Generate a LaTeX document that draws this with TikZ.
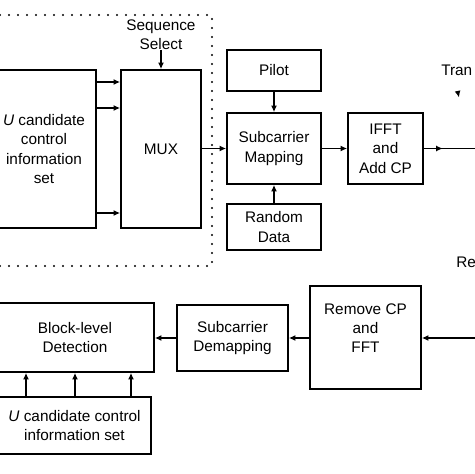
\documentclass[tikz,border=0pt]{standalone}
\usepackage{fontspec}
\setmainfont{Liberation Sans}
\usepackage{tikz}
\usetikzlibrary{arrows.meta}

\tikzset{
  blk/.style={draw, line width=1.2pt, align=center, inner sep=0pt},
  sz/.style 2 args={minimum width=#1*0.75pt, minimum height=#2*0.75pt},
  lbl/.style={align=center, inner sep=0pt},
  arr/.style={line width=1.2pt, -{Latex[length=5pt,width=4.5pt]}},
  ln/.style={line width=1.2pt},
  dotbox/.style={line width=1.6pt, line cap=round, dash pattern=on 0pt off 6.75pt}
}

\begin{document}
\begin{tikzpicture}[x=0.75pt,y=0.75pt,yscale=-1,xscale=1,
  font=\fontsize{11.5}{14.5}\selectfont]
    \useasboundingbox (0,0) rectangle (474,474);

    %Shape: Dotted frame
    \draw[dotbox] (-10,15) rectangle (212,266);

    %Shape: Transmitter blocks
    \node[blk, sz={104}{158}] (cand) at (44,149) {\textit{U} candidate\\control\\information\\set};
    \node[blk, sz={80}{158}] (mux) at (161,149) {MUX};
    \node[lbl] (seq) at (161,34.5) {Sequence\\Select};
    \node[blk, sz={94}{41}] (pilot) at (274,70.5) {Pilot};
    \node[blk, sz={94}{71}] (map) at (274,148.5) {Subcarrier\\Mapping};
    \node[blk, sz={94}{46}] (rand) at (274,227) {Random\\Data};
    \node[blk, sz={75}{71}] (ifft) at (385.5,148.5) {IFFT\\and\\Add CP};
    \node[anchor=west, inner sep=0pt] (tx) at (441,70) {Tran};
    \coordinate (txend) at (480,148.5);

    %Shape: Receiver blocks
    \node[blk, sz={158}{69}] (bld) at (75,337.5) {Block-level\\Detection};
    \node[blk, sz={153}{57}] (cand2) at (74.5,425.5) {\textit{U} candidate control\\information set};
    \node[blk, sz={111}{66}] (demap) at (232.5,338) {Subcarrier\\Demapping};
    \node[blk, sz={111}{103}] (rmcp) at (365.5,337.5) {};
    \node[lbl] (rmcpt) at (365.5,328) {Remove CP\\and\\FFT};
    \node[anchor=west, inner sep=0pt] (rx) at (456,262) {Re};
    \coordinate (rxin) at (480,338);

    %Straight Lines: transmitter
    \foreach \y in {82,108,213}
      \draw[arr] (cand.east |- 0,\y) -- (mux.west |- 0,\y);
    \draw[arr] (seq.south -| mux.north) -- (mux.north);
    \draw[arr] (mux.east |- map.west) -- (map.west);
    \draw[arr] (pilot) -- (map);
    \draw[arr] (rand) -- (map);
    \draw[arr] (map) -- (ifft);
    \draw[ln] (ifft.east) -- (txend);
    \draw[arr] (ifft.east) -- ++(19,0);
    \draw[arr] (458,93) -- (459,97.5);

    %Straight Lines: receiver
    \draw[arr] (rxin) -- (rmcp.east |- rxin);
    \draw[arr] (rmcp.west |- rxin) -- (demap.east |- rxin);
    \draw[arr] (demap.west |- rxin) -- (bld.east |- rxin);
    \foreach \x in {26,75,131}
      \draw[arr] (cand2.north -| \x,0) -- (bld.south -| \x,0);

\end{tikzpicture}
\end{document}
